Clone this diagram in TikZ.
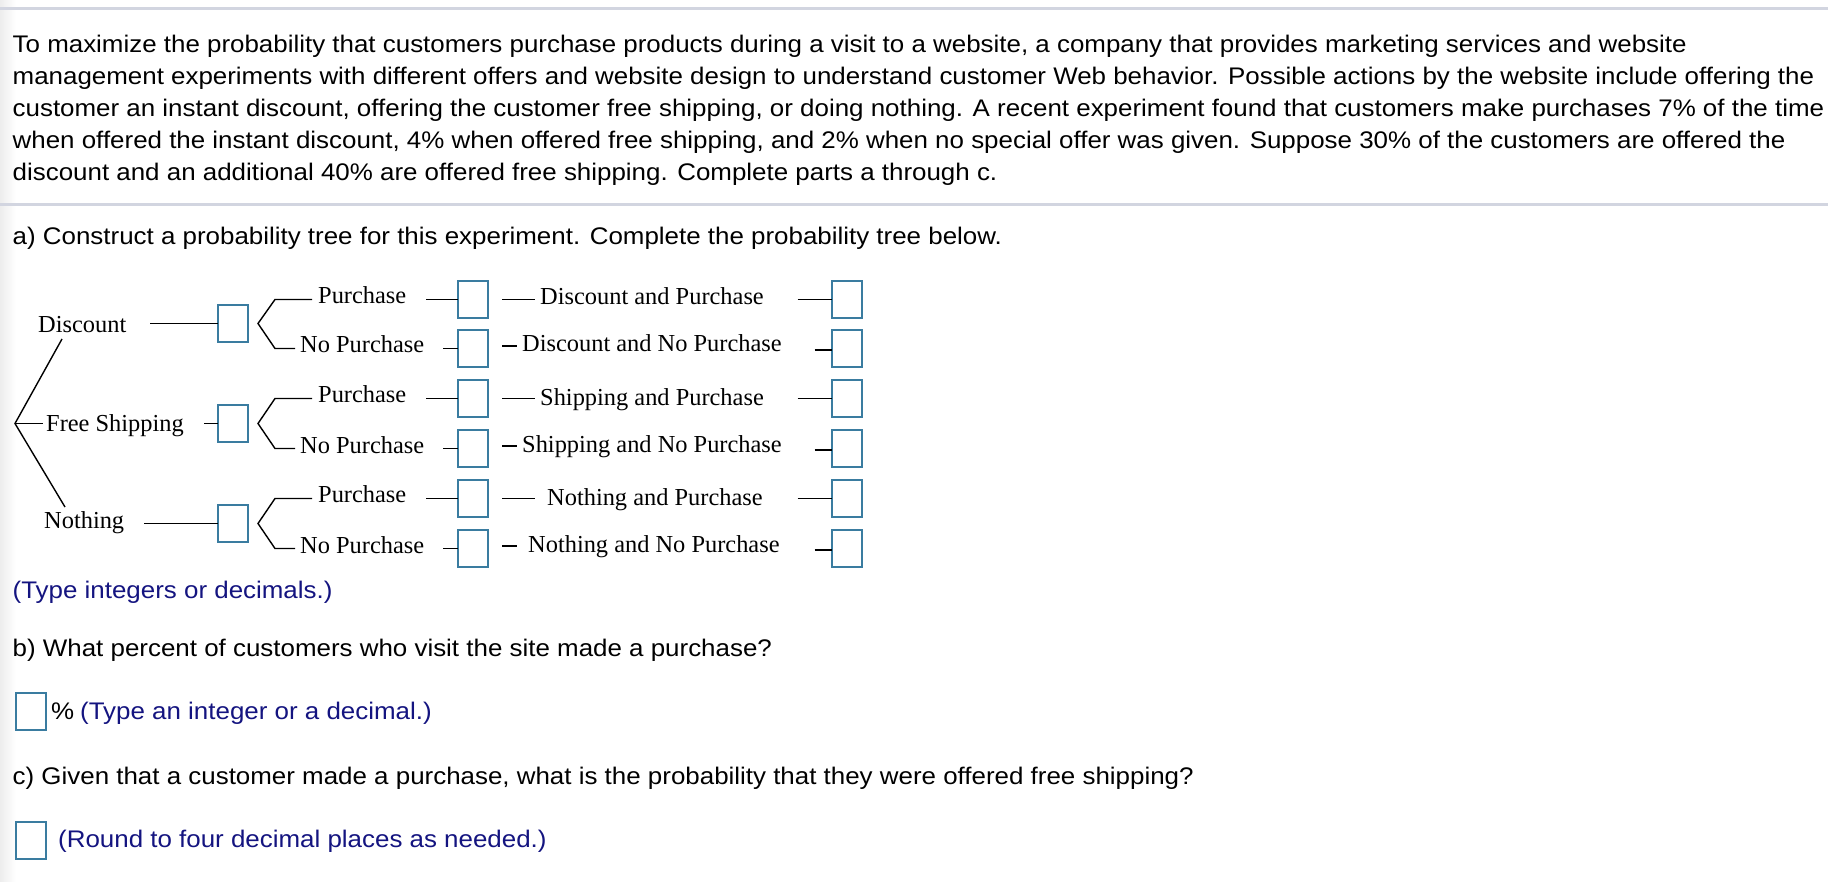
\documentclass[tikz,border=0pt]{standalone}
\usepackage{fontspec}
\setmainfont{Liberation Sans}[FakeStretch=1.08]
\newfontfamily\treefont{Liberation Serif}
\definecolor{boxblue}{RGB}{58,124,160}
\definecolor{ansnavy}{RGB}{20,20,128}
\definecolor{sepgray}{RGB}{210,213,224}
\begin{document}
\begin{tikzpicture}[x=1pt,y=-1pt,
  txt/.style={anchor=base west, inner sep=0, font=\fontsize{24}{29}\selectfont},
  navytxt/.style={txt, text=ansnavy},
  tl/.style={anchor=base west, inner sep=0, font=\treefont\fontsize{24.4}{29}\selectfont},
  abox/.style={draw=boxblue, line width=2pt, minimum width=30pt, minimum height=37pt, inner sep=0, outer sep=0},
  br/.style={line width=1.4pt},
  sep/.style={draw=sepgray, line width=2.5pt}]
\useasboundingbox (0,0) rectangle (1828,882);
\fill[white] (0,0) rectangle (1828,882);
\shade[left color=black!7, right color=white] (0,0) rectangle (16,882);
% separators
\coordinate (s1a) at (0,8.5); \coordinate (s1b) at (1828,8.5);
\coordinate (s2a) at (0,204.5); \coordinate (s2b) at (1828,204.5);
\draw[sep] (s1a) -- (s1b);
\draw[sep] (s2a) -- (s2b);
% problem text
\node[txt] (l1) at (12.5,53) {To maximize the probability that customers purchase products during a visit to a website, a company that provides marketing services and website};
\node[txt] (l2) at (12.5,85) {management experiments with different offers and website design to understand customer Web behavior. Possible actions by the website include offering the};
\node[txt] (l3) at (12.5,117) {customer an instant discount, offering the customer free shipping, or doing nothing. A recent experiment found that customers make purchases 7\% of the time};
\node[txt] (l4) at (12.5,149) {when offered the instant discount, 4\% when offered free shipping, and 2\% when no special offer was given. Suppose 30\% of the customers are offered the};
\node[txt] (l5) at (12.5,181) {discount and an additional 40\% are offered free shipping. Complete parts a through c.};
\node[txt] (qa) at (12.5,245) {a) Construct a probability tree for this experiment. Complete the probability tree below.};
% tree labels
\node[tl] (disc) at (38,333) {Discount};
\node[tl] (fs) at (46,431) {Free Shipping};
\node[tl] (noth) at (44,528) {Nothing};
\node[abox] (bD) at (233,323.5) {};
\node[abox] (bF) at (233,423.5) {};
\node[abox] (bN) at (233,523.5) {};
\coordinate (root) at (15,423.5);
\coordinate (rD) at (62,339);
\coordinate (rF) at (43,423.5);
\coordinate (rN) at (65,507);
\draw[br] (rD) -- (root) -- (rN);
\draw[br] (root) -- (rF);
\draw[br] ([xshift=-68pt]bD.west) -- (bD.west);
\draw[br] ([xshift=-14pt]bF.west) -- (bF.west);
\draw[br] ([xshift=-74pt]bN.west) -- (bN.west);
% second level
\foreach \r/\yc/\yp/\yn in {1/323.5/299.5/348.5, 2/423.5/398.5/448.5, 3/523.5/498.5/548.5}{
  \node[tl] (p\r) at (318,\yp+4) {Purchase};
  \node[tl] (np\r) at (300,\yn+4.5) {No Purchase};
  \node[abox] (bp\r) at (473,\yp) {};
  \node[abox] (bnp\r) at (473,\yn) {};
  \draw[br] (312,\yp) -- (275,\yp) -- (258,\yc) -- (275,\yn) -- (295,\yn);
  \draw[br] ([xshift=-32pt]bp\r.west) -- (bp\r.west);
  \draw[br] ([xshift=-15pt]bnp\r.west) -- (bnp\r.west);
  \node[abox] (jp\r) at (846.5,\yp) {};
  \node[abox] (jnp\r) at (846.5,\yn) {};
  \draw[br] ([xshift=-34pt]jp\r.west) -- (jp\r.west);
  \draw[br] ([xshift=-17pt,yshift=-1.5pt]jnp\r.west) -- ([yshift=-1.5pt]jnp\r.west);
  \draw[br] (502,\yp) -- (535,\yp);
  \draw[br] (502,\yn-2.5) -- (517,\yn-2.5);
}
\node[tl] (jDP) at (540,305) {Discount and Purchase};
\node[tl] (jDN) at (522,352) {Discount and No Purchase};
\node[tl] (jSP) at (540,405) {Shipping and Purchase};
\node[tl] (jSN) at (522,452) {Shipping and No Purchase};
\node[tl] (jNP) at (547,505) {Nothing and Purchase};
\node[tl] (jNN) at (528,552) {Nothing and No Purchase};
% questions
\node[navytxt] (hint1) at (12.5,598.5) {(Type integers or decimals.)};
\node[txt] (qb) at (12.5,656.5) {b) What percent of customers who visit the site made a purchase?};
\node[abox] (ansb) at (30.5,711.5) {};
\node[txt] (pct) at (51,719) {\%};
\node[navytxt, anchor=base west] (hint2) at (80,719) {(Type an integer or a decimal.)};
\node[txt] (qc) at (12.5,784) {c) Given that a customer made a purchase, what is the probability that they were offered free shipping?};
\node[abox] (ansc) at (30.5,840) {};
\node[navytxt] (hint3) at (58,847) {(Round to four decimal places as needed.)};
\end{tikzpicture}
\end{document}
